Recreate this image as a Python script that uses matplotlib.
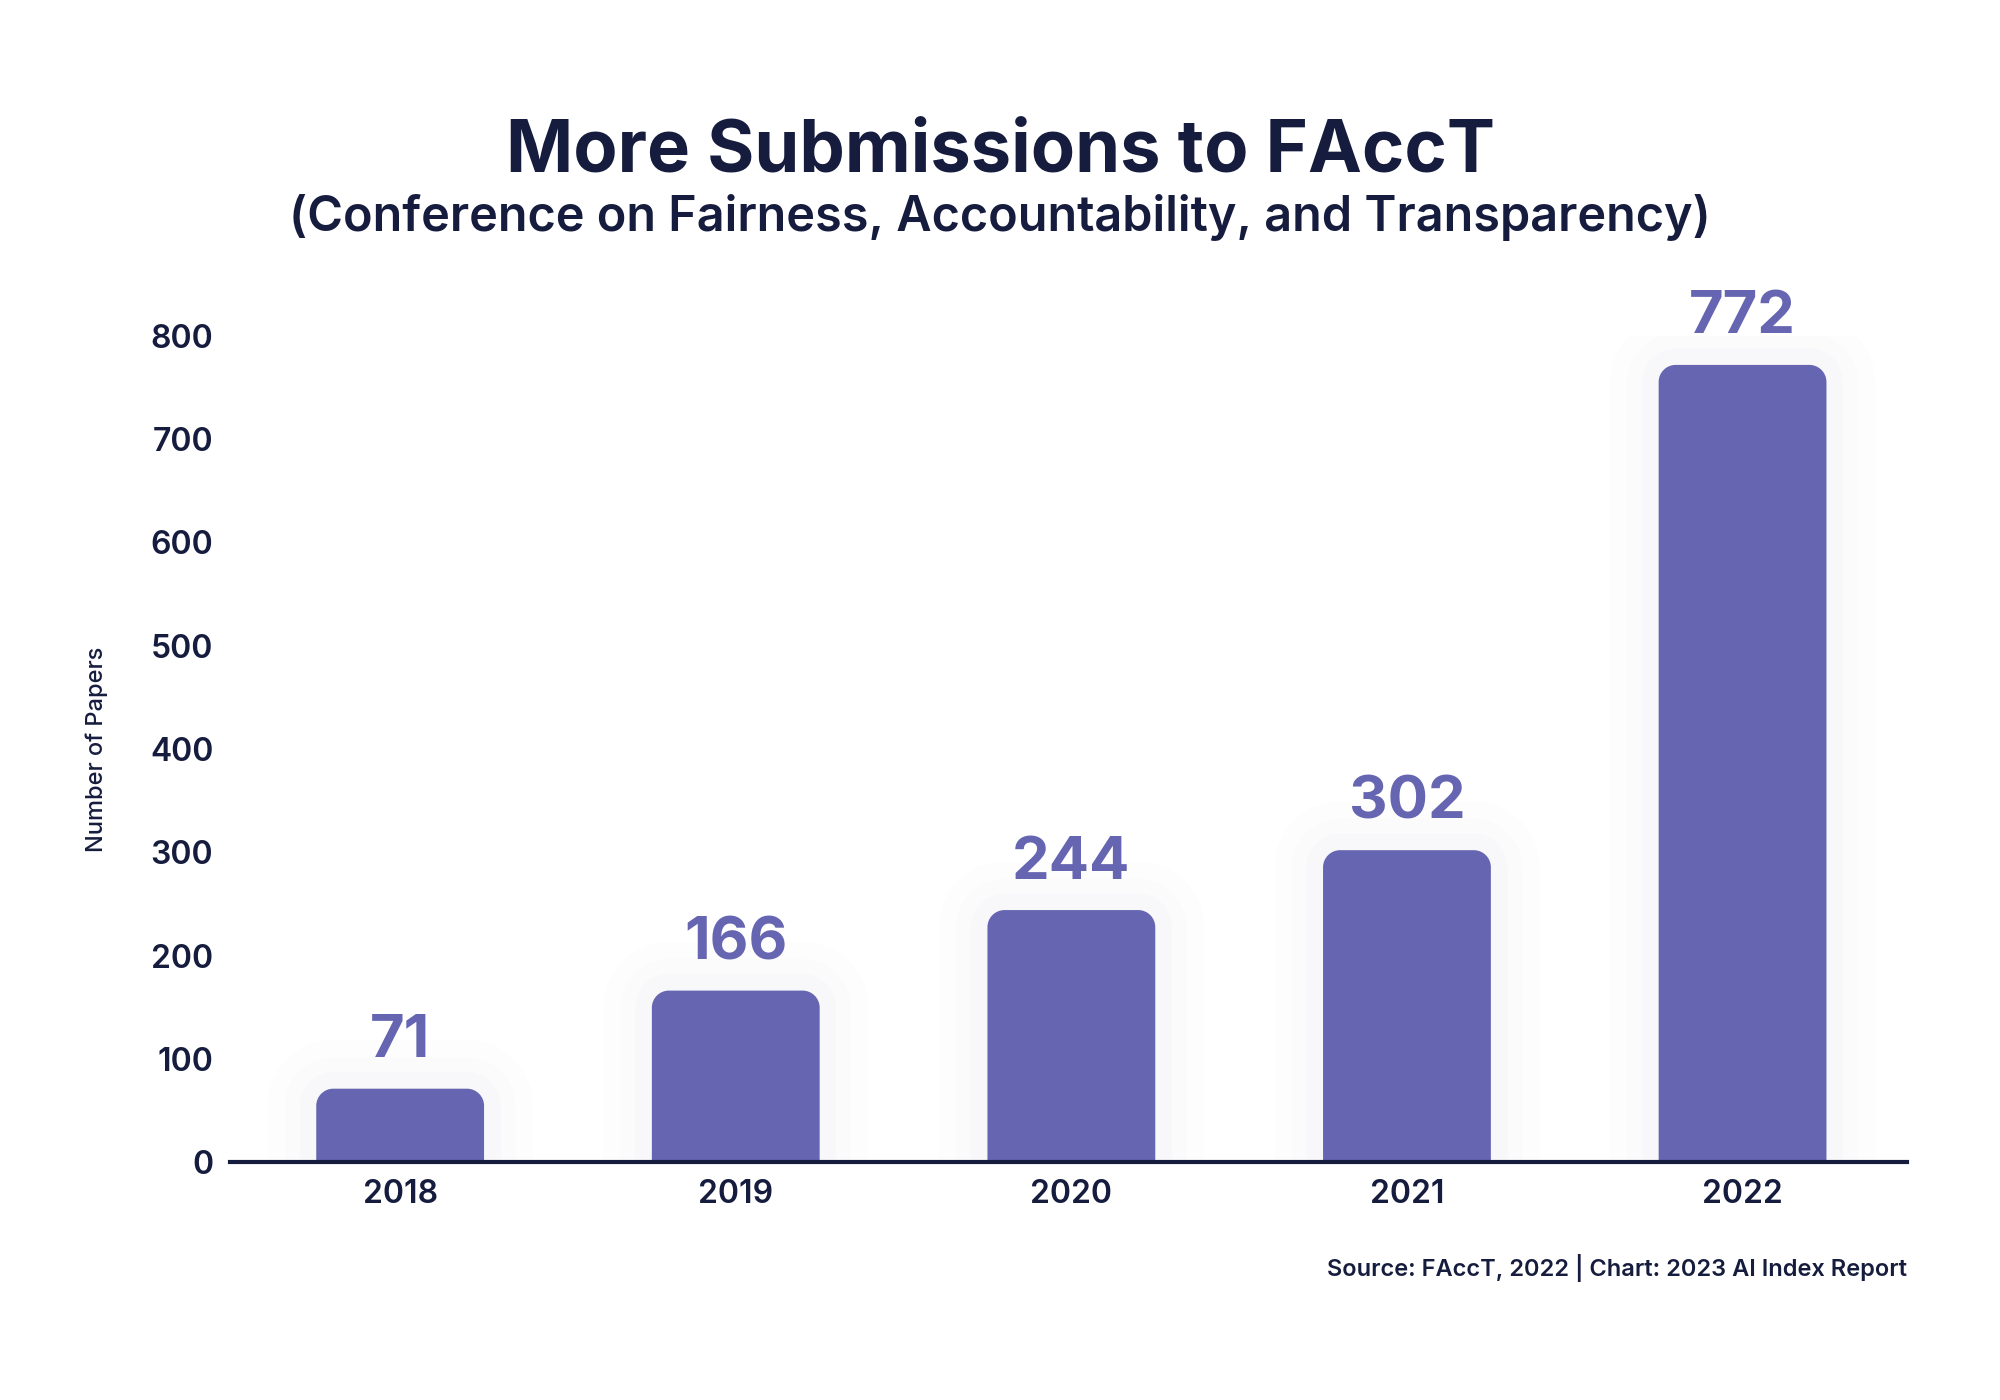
import matplotlib.pyplot as plt
from matplotlib.path import Path
from matplotlib.patches import PathPatch

# data
years = ["2018", "2019", "2020", "2021", "2022"]
papers = [71, 166, 244, 302, 772]
yticks = [0, 100, 200, 300, 400, 500, 600, 700, 800]

bar_color = "#6565b1"
text_color = "#161c3d"

plt.rcParams['font.family'] = ['Inter', 'DejaVu Sans']

fig = plt.figure(figsize=(20, 14), dpi=100)
ax = fig.add_axes([0.115, 0.17, 0.8385, 0.59])
ax.set_xlim(-0.507, 4.49)
ax.set_ylim(0, 800)

# plain bars first, then swap for rounded-top shapes
bars = ax.bar(range(len(years)), papers, width=0.5, color=bar_color)

# corner radius in pixels, converted to data units
fig.canvas.draw()
px_per_x = ax.transData.transform((1, 0))[0] - ax.transData.transform((0, 0))[0]
px_per_y = ax.transData.transform((0, 100))[1] - ax.transData.transform((0, 0))[1]
r_px = 17
rx = r_px / px_per_x
ry = r_px / px_per_y * 100


def rounded_top(x0, w, h):
    x1 = x0 + w
    k = 0.55
    verts = [(x0, 0), (x0, h - ry),
             (x0, h - ry + k * ry), (x0 + rx - k * rx, h), (x0 + rx, h),
             (x1 - rx, h),
             (x1 - rx + k * rx, h), (x1, h - ry + k * ry), (x1, h - ry),
             (x1, 0), (x0, 0)]
    codes = [Path.MOVETO, Path.LINETO,
             Path.CURVE4, Path.CURVE4, Path.CURVE4,
             Path.LINETO,
             Path.CURVE4, Path.CURVE4, Path.CURVE4,
             Path.LINETO, Path.CLOSEPOLY]
    return Path(verts, codes)


for b in bars:
    b.set_visible(False)
    p = rounded_top(b.get_x(), b.get_width(), b.get_height())
    # soft glow behind the bar
    for lw, a in [(70, 0.04), (45, 0.05), (24, 0.06)]:
        ax.add_patch(PathPatch(p, facecolor="none", edgecolor="#d8d8ea", lw=lw, alpha=a,
                               joinstyle="round", zorder=1))
    ax.add_patch(PathPatch(p, facecolor=bar_color, edgecolor="none", zorder=2))
    ax.annotate(str(int(b.get_height())),
                (b.get_x() + b.get_width() / 2, b.get_height()),
                xytext=(0, 14), textcoords="offset points",
                ha="center", va="bottom", fontsize=43, fontweight="bold",
                color=bar_color)

ax.set_xticks(range(len(years)))
ax.set_xticklabels(years, fontsize=23, fontweight="semibold", color=text_color)
ax.set_yticks(yticks)
ax.set_yticklabels([str(t) for t in yticks], fontsize=23, fontweight="semibold", color=text_color)
ax.tick_params(axis="both", length=0)
ax.tick_params(axis="x", pad=12)
ax.tick_params(axis="y", pad=12)

for s in ["top", "right", "left"]:
    ax.spines[s].set_visible(False)
ax.spines["bottom"].set_color(text_color)
ax.spines["bottom"].set_linewidth(3)
ax.spines["bottom"].set_zorder(3)

ax.set_ylabel("Number of Papers", fontsize=17, fontweight="medium", color=text_color, labelpad=30)

fig.text(0.5, 0.891, "More Submissions to FAccT", ha="center", va="center",
         fontsize=52, fontweight="bold", color=text_color)
fig.text(0.5, 0.845, "(Conference on Fairness, Accountability, and Transparency)",
         ha="center", va="center", fontsize=35, fontweight="semibold", color=text_color)
fig.text(0.9535, 0.094, "Source: FAccT, 2022 | Chart: 2023 AI Index Report",
         ha="right", va="center", fontsize=17, fontweight="semibold", color=text_color)

fig.savefig("out.png", dpi=100, facecolor="white")
